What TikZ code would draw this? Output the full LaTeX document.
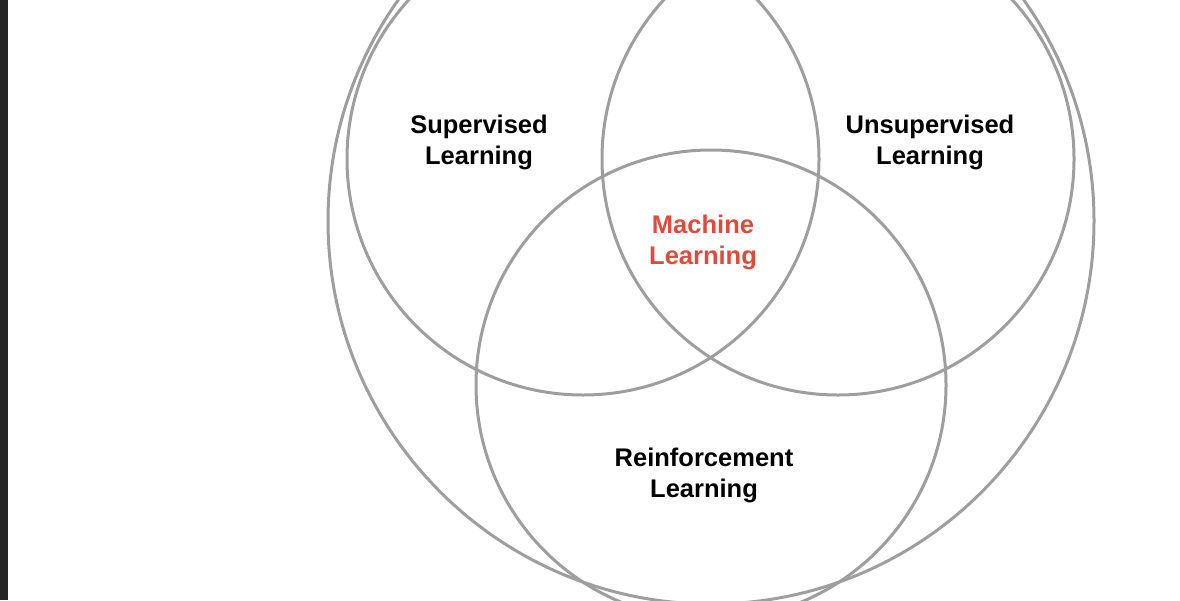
\documentclass[tikz,border=0pt]{standalone}
\usepackage{fontspec}
\setmainfont{Liberation Sans}
\begin{document}
\begin{tikzpicture}[x=1pt,y=-1pt,
  ring/.style={draw=black!38,line width=3pt},
  lbl/.style={font=\fontsize{25.5}{31}\selectfont\bfseries,align=center,text=black},
  red/.style={text={rgb,255:red,224;green,74;blue,60}}]
\useasboundingbox (0,0) rectangle (1180,600);
\fill[black!85] (0,0) rectangle (8,600);
\clip (0,0) rectangle (1180,600);
\draw[ring] (711,221) circle (383);
\draw[ring] (583,159) circle (236);
\draw[ring] (838,159) circle (236);
\draw[ring] (711,385) circle (235);
\node[lbl] (sup) at (479,142) {Supervised\\Learning};
\node[lbl] (uns) at (930,142) {Unsupervised\\Learning};
\node[lbl,red] (ml) at (703,242) {Machine\\Learning};
\node[lbl] (rl) at (704,475) {Reinforcement\\Learning};
\end{tikzpicture}
\end{document}
